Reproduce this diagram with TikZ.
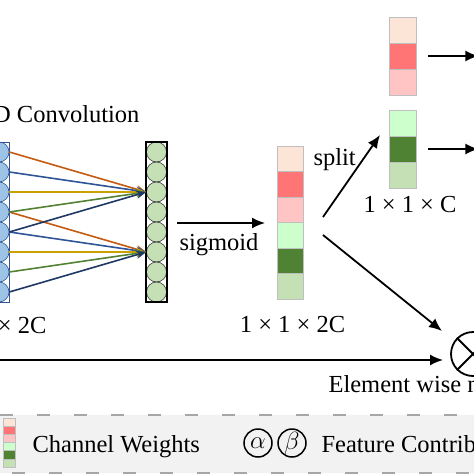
\documentclass[tikz,border=0pt]{standalone}
\usepackage{fontspec}
\setmainfont{Liberation Serif}
\usetikzlibrary{arrows.meta}
\definecolor{peach}{HTML}{FCE4D6}
\definecolor{salmon}{HTML}{FF7474}
\definecolor{pinkw}{HTML}{FFC5C5}
\definecolor{mint}{HTML}{CCFFCC}
\definecolor{darkg}{HTML}{4F8233}
\definecolor{sage}{HTML}{C5E0B4}
\definecolor{cellline}{HTML}{BFBFBF}
\definecolor{ballblue}{HTML}{9DC3E6}
\definecolor{convorange}{HTML}{C55A11}
\definecolor{convblue}{HTML}{2F5597}
\definecolor{convyellow}{HTML}{C9A100}
\definecolor{convgreen}{HTML}{548235}
\definecolor{convnavy}{HTML}{1F3864}
\begin{document}
\begin{tikzpicture}[x=1pt,y=-1pt,
  font=\fontsize{24.5}{29}\selectfont,
  ball/.style={circle,minimum size=20pt,inner sep=0pt,line width=0.6pt},
  cell/.style={rectangle,draw=cellline,line width=0.8pt,inner sep=0pt},
  conv/.style={line width=1.6pt,-{Stealth[length=10pt,width=8pt]}},
  flow/.style={line width=1.8pt,-{Latex[length=13pt,width=11pt]}},
  legdash/.style={draw=gray!70,line width=2pt,dash pattern=on 13pt off 24pt},
]
\useasboundingbox (0,0) rectangle (474,474);
\clip (0,0) rectangle (474,474);

% input and output of the 1D convolution
\foreach \i in {1,...,8}
  \node[ball,fill=ballblue,draw=convblue] (b\i) at (-1,132+20*\i) {};
\draw[convblue,line width=1pt] (-12,142) rectangle (9,302);
\foreach \i in {1,...,8}
  \node[ball,fill=sage,draw=black!80] (g\i) at (156.5,132+20*\i) {};
\draw[line width=1.5pt] (146,142) rectangle (167,302);
\foreach \s/\c in {1/convorange,2/convblue,3/convyellow,4/convgreen,5/convnavy} {
  \pgfmathtruncatemacro\t{\s+3}
  \draw[conv,\c] (b\s.east) -- (g3.west);
  \draw[conv,\c] (b\t.east) -- (g6.west);
}
\node[anchor=base east] (convlabel) at (143,122) {1D Convolution};
\node[anchor=base east] (insize) at (50,333) {1 × 1 × 2C};

% channel weights
\foreach \i/\c in {1/peach,2/salmon,3/pinkw,4/mint,5/darkg,6/sage}
  \node[cell,fill=\c,minimum width=26pt,minimum height=25.5pt] (w\i) at (290,133.25+25.5*\i) {};
\node (wsize) at (292.5,325) {1 × 1 × 2C};
\foreach \i/\c in {1/peach,2/salmon,3/pinkw}
  \node[cell,fill=\c,minimum width=27pt,minimum height=26pt] (r\i) at (402.5,4+26*\i) {};
\foreach \i/\c in {1/mint,2/darkg,3/sage}
  \node[cell,fill=\c,minimum width=27pt,minimum height=26pt] (k\i) at (402.5,97+26*\i) {};
\node[anchor=base west] (ksize) at (360,212) {1 × 1 × C};

% arrows
\coordinate (sigin) at (177,223);
\coordinate (sigout) at (265,223);
\draw[flow] (sigin) -- (sigout);
\node[anchor=base west] (siglabel) at (176,250) {sigmoid};
\coordinate (splitin) at (323,217);
\coordinate (splitout) at (380,135);
\draw[flow] (splitin) -- (splitout);
\node[anchor=base west] (splitlabel) at (310,165) {split};
\draw[flow,shorten <=12pt] (r2.east) -- ++(62,0);
\draw[flow,shorten <=12pt] (k2.east) -- ++(62,0);

% element wise multiplication
\node[circle,draw,line width=1.8pt,minimum size=44pt,inner sep=0pt] (mul) at (473,354) {};
\draw[line width=1.8pt] (mul.north west) -- (mul.south east)
  (mul.north east) -- (mul.south west);
\coordinate (mulin) at (323,235);
\coordinate (mulend) at (442,331);
\draw[flow] (mulin) -- (mulend);
\coordinate (skip) at (0,360);
\coordinate (skipend) at (443,360);
\draw[flow] (skip) -- (skipend);
\node[anchor=base west] (mullabel) at (325,392) {Element wise multiplication};

% legend
\fill[gray!10] (0,415) rectangle (474,473);
\draw[legdash] (0,415) -- (474,415);
\draw[legdash,dash phase=-12pt] (0,473) -- (474,473);
\foreach \i/\c in {1/peach,2/salmon,3/pinkw,4/mint,5/darkg,6/sage}
  \node[cell,fill=\c,line width=0.4pt,minimum width=12pt,minimum height=8.17pt] (l\i) at (9,413.9+8.17*\i) {};
\node[anchor=base west] (chlabel) at (29,452) {Channel Weights};
\node[circle,draw,line width=1.5pt,minimum size=28pt,inner sep=0pt] (alf) at (258,443) {$\alpha$};
\node[circle,draw,line width=1.5pt,minimum size=28pt,inner sep=0pt] (bet) at (292,443) {$\beta$};
\node[anchor=base west] (fclabel) at (318,452) {Feature Contribution};
\end{tikzpicture}
\end{document}
